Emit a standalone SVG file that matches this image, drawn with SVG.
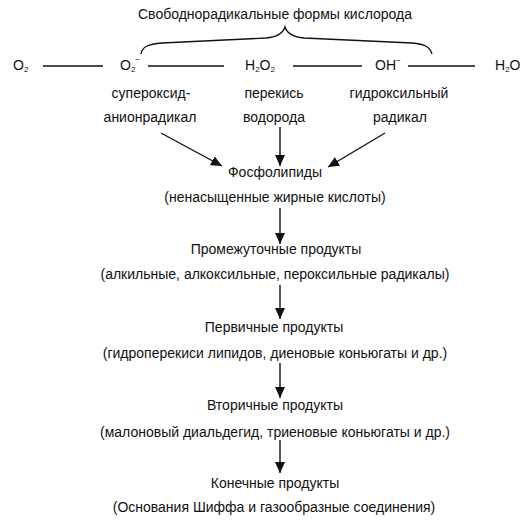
<svg xmlns="http://www.w3.org/2000/svg" width="531" height="526" viewBox="0 0 531 526">
<defs>
<style>
text{font-family:"Liberation Sans",Arial,sans-serif;font-size:14px;fill:#111;}
.c{text-anchor:middle;}
.sub{font-size:8px;}
.ln{stroke:#111;stroke-width:1.4;fill:none;}
.ar{stroke:#111;stroke-width:1.4;fill:none;marker-end:url(#ah);}
</style>
<marker id="ah" markerUnits="userSpaceOnUse" markerWidth="12" markerHeight="10" refX="11" refY="5" orient="auto">
<path d="M0,0 L11,5 L0,10 Z" fill="#111"/>
</marker>
</defs>
<rect width="531" height="526" fill="#fff"/>
<g id="title"><text class="c" x="275" y="19">Свободнорадикальные формы кислорода</text></g>
<g id="brace"><path class="ln" d="M141,54 C142,47 148,44 162,43 L266,38 C278,37 283,33 285,27 C287,33 292,37 304,38 L412,43 C425,44 430,47 432,54"/></g>
<g id="connectors">
<line class="ln" x1="43" y1="66" x2="103" y2="66"/>
<line class="ln" x1="148" y1="66" x2="224" y2="66"/>
<line class="ln" x1="293" y1="66" x2="362" y2="66"/>
<line class="ln" x1="408" y1="66" x2="475" y2="66"/>
<line class="ar" x1="161" y1="133" x2="222" y2="166"/>
<line class="ar" x1="280" y1="127" x2="280" y2="166"/>
<line class="ar" x1="385" y1="133" x2="328" y2="167"/>
<line class="ar" x1="280" y1="208" x2="280" y2="244"/>
<line class="ar" x1="280" y1="285" x2="280" y2="319"/>
<line class="ar" x1="280" y1="363" x2="280" y2="398"/>
<line class="ar" x1="280" y1="440" x2="280" y2="473"/>
</g>
<g id="o2"><text x="13" y="70">O<tspan class="sub" dy="2">2</tspan></text></g>
<g id="superoxide">
<text x="120" y="70">O<tspan class="sub" dy="2">2</tspan><tspan class="sub" dy="-10">−</tspan></text>
<text class="c" x="151" y="98">супероксид-</text>
<text class="c" x="150" y="122">анионрадикал</text>
</g>
<g id="h2o2">
<text x="245" y="70">H<tspan class="sub" dy="2">2</tspan><tspan dy="-2">O</tspan><tspan class="sub" dy="2">2</tspan></text>
<text class="c" x="274" y="98">перекись</text>
<text class="c" x="274" y="122">водорода</text>
</g>
<g id="oh">
<text x="375" y="70">OH<tspan class="sub" dy="-7">−</tspan></text>
<text class="c" x="399" y="98">гидроксильный</text>
<text class="c" x="400" y="122">радикал</text>
</g>
<g id="h2o"><text x="495" y="70">H<tspan class="sub" dy="2">2</tspan><tspan dy="-2">O</tspan></text></g>
<g id="phospholipids">
<text class="c" x="275" y="177">Фосфолипиды</text>
<text class="c" x="275" y="202">(ненасыщенные жирные кислоты)</text>
</g>
<g id="intermediate">
<text class="c" x="276" y="254">Промежуточные продукты</text>
<text class="c" x="275" y="279">(алкильные, алкоксильные, пероксильные радикалы)</text>
</g>
<g id="primary">
<text class="c" x="274" y="332">Первичные продукты</text>
<text class="c" x="275" y="358">(гидроперекиси липидов, диеновые коньюгаты и др.)</text>
</g>
<g id="secondary">
<text class="c" x="275" y="410">Вторичные продукты</text>
<text class="c" x="275" y="437">(малоновый диальдегид, триеновые коньюгаты и др.)</text>
</g>
<g id="final">
<text class="c" x="275" y="488">Конечные продукты</text>
<text class="c" x="274" y="512">(Основания Шиффа и газообразные соединения)</text>
</g>
</svg>
